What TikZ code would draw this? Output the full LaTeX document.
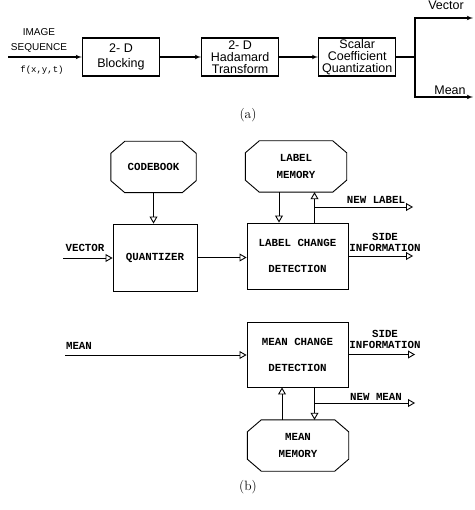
\documentclass[tikz,border=0pt]{standalone}
\usepackage{fontspec}
\newfontfamily\helv{Liberation Sans}
\newfontfamily\lpfont{Liberation Mono}
\usetikzlibrary{arrows,positioning}

% octagon round a named node
\newcommand\octoframe[1]{%
  \draw[line width=0.9pt] ([xshift=14pt]#1.north west) -- ([xshift=-14pt]#1.north east)
    -- ([yshift=-12pt]#1.north east) -- ([yshift=12pt]#1.south east)
    -- ([xshift=-14pt]#1.south east) -- ([xshift=14pt]#1.south west)
    -- ([yshift=12pt]#1.south west) -- ([yshift=-12pt]#1.north west) -- cycle;}

\begin{document}
\begin{tikzpicture}[x=1pt,y=-1pt,>=latex']
  \tikzset{block/.style= {draw, line width=1.1pt, rectangle, align=center, minimum
      width=77pt, minimum height=38pt, inner sep=1pt,
      font=\helv\fontsize{12.5}{12}\selectfont},
    box/.style= {draw, line width=0.9pt, rectangle, align=center, minimum
      width=101pt, minimum height=66pt,
      font=\lpfont\bfseries\fontsize{10.8}{26}\selectfont},
    memory/.style= {rectangle, align=center, minimum width=101pt, minimum
      height=51pt, inner sep=0pt,
      font=\lpfont\bfseries\fontsize{10.8}{16.5}\selectfont},
    lbl/.style= {inner sep=0pt, align=center,
      font=\lpfont\bfseries\fontsize{10.8}{11}\selectfont},
    feed/.style= {draw, line width=1.1pt, -{latex'[scale=1.3]}},
    flow/.style= {draw, line width=0.9pt, -open triangle 60}}
  \useasboundingbox (0,0) rectangle (474,510);

  % (a)
  \node[block] (blocking) at (121,57) {2- D\\[3pt]Blocking};
  \node[block, right =41pt of blocking] (hadamard) {2- D\\Hadamard\\Transform};
  \node[block, right =39pt of hadamard] (scalar) {Scalar\\Coefficient\\Quantization};
  \node[align=center, inner sep=0pt, font=\helv\fontsize{10}{15}\selectfont]
    (imgseq) at (39,40) {IMAGE\\SEQUENCE};
  \node[inner sep=0pt, font=\lpfont\fontsize{9}{10}\selectfont] (fxyt) at (42,70) {f(x,y,t)};
  \node[inner sep=0pt, font=\helv\fontsize{12.5}{14}\selectfont] (vector) at (446,5) {Vector};
  \node[inner sep=0pt, font=\helv\fontsize{12.5}{14}\selectfont] (mean) at (450,90) {Mean};
  \node[font=\fontsize{13.5}{15}\selectfont] (capa) at (248,115) {(a)};

  \coordinate (imgin) at (8,57);
  \coordinate (split) at (415,57);
  \coordinate (vecout) at (473,18);
  \coordinate (meanout) at (473,97);
  \path[feed] (imgin) -- (blocking);
  \path[feed] (blocking) -- (hadamard);
  \path[feed] (hadamard) -- (scalar);
  \path[draw, line width=1.1pt] (scalar) -- (split);
  \path[feed] (split) |- (vecout);
  \path[feed] (split) |- (meanout);

  % (b)
  \node[memory, minimum width=85pt] (codebook) at (153.5,167) {CODEBOOK};
  \node[box, minimum width=84pt, minimum height=67pt] (quantizer) at (155,257.5) {QUANTIZER};
  \node[memory] (labelmem) at (296,166.5) {LABEL\\MEMORY};
  \node[box] (labelchg) at (297.5,256) {LABEL CHANGE\\DETECTION};
  \node[box, minimum height=65pt] (meanchg) at (297.5,354.5) {MEAN CHANGE\\DETECTION};
  \node[memory] (meanmem) at (298,445.5) {MEAN\\MEMORY};
  \octoframe{codebook}
  \octoframe{labelmem}
  \octoframe{meanmem}

  \node[lbl] (veclbl) at (85,248) {VECTOR};
  \node[lbl] (newlbl) at (376,200) {NEW LABEL};
  \node[lbl] (side1) at (385,242.5) {SIDE\\INFORMATION};
  \node[lbl] (meanlbl) at (79,346) {MEAN};
  \node[lbl] (side2) at (385,339) {SIDE\\INFORMATION};
  \node[lbl] (newmeanlbl) at (376,397) {NEW MEAN};
  \node[font=\fontsize{13.5}{15}\selectfont] (capb) at (248,487) {(b)};

  \coordinate (vecin) at (63,258);
  \coordinate (meanin) at (65,355);
  \coordinate (newlabel) at (413,207);
  \coordinate (sideout1) at (413,256);
  \coordinate (sideout2) at (415,354.5);
  \coordinate (newmean) at (415,403);

  \path[flow] (codebook.south) -- (codebook.south |- quantizer.north);
  \path[flow] (vecin) -- (vecin -| quantizer.west);
  \path[flow] (quantizer.east) -- (quantizer.east -| labelchg.west);
  \path[flow] ([xshift=-17pt]labelmem.south) -- ([xshift=-17pt]labelmem.south |- labelchg.north);
  \path[flow] ([xshift=17pt]labelchg.north) -- ([xshift=17pt]labelchg.north |- labelmem.south);
  \path[flow] ([xshift=17pt]labelchg.north |- newlabel) -- (newlabel);
  \path[flow] (labelchg.east) -- (sideout1);
  \path[flow] (meanin) -- (meanin -| meanchg.west);
  \path[flow] (meanchg.east) -- (sideout2);
  \path[flow] ([xshift=-16pt]meanmem.north) -- ([xshift=-16pt]meanmem.north |- meanchg.south);
  \path[flow] ([xshift=17pt]meanchg.south) -- ([xshift=17pt]meanchg.south |- meanmem.north);
  \path[flow] ([xshift=17pt]meanchg.south |- newmean) -- (newmean);
\end{tikzpicture}
\end{document}
